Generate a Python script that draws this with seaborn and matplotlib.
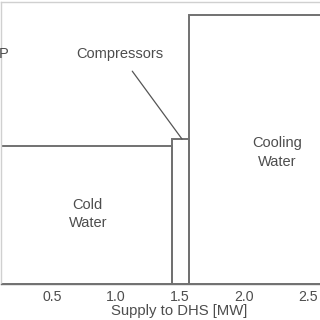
import matplotlib
matplotlib.use('Agg')
import matplotlib.pyplot as plt
import numpy as np
import seaborn as sns

# bin edges along the supply axis [MW] and level of each block
edges = [0.0, 1.44, 1.57, 3.0]
levels = [48.9, 51.4, 95.4]
blocks = ['Cold\nWater', 'Compressors', 'Cooling\nWater']
ticks = [0.5, 1.0, 1.5, 2.0, 2.5]

sns.set_style('white')
plt.rcParams['font.family'] = ['Liberation Sans', 'DejaVu Sans']

grey = '#717171'
txt = '#4d4d4d'

fig = plt.figure(figsize=(3.2, 3.2), dpi=100)
ax = fig.add_axes([0.004, 36 / 320, 1.0, 282 / 320])

sns.histplot(x=edges[:-1], weights=levels, bins=edges, fill=False,
             color=grey, linewidth=1.4, ax=ax)

ax.set_xlim(0.094 + 0.01, 2.594 + 0.01)
ax.set_ylim(0, 100)
ax.set_xticks(ticks)
ax.set_xticklabels(['%.1f' % t for t in ticks], fontsize=10.2, color=txt)
ax.set_yticks([])
ax.set_ylabel('')
ax.tick_params(axis='x', length=2, width=0.8, color=grey, pad=2)

ax.spines['bottom'].set_color(grey)
ax.spines['bottom'].set_linewidth(1.0)
for s in ['left', 'top']:
    ax.spines[s].set_color('#d0d0d0')
    ax.spines[s].set_linewidth(1.0)
ax.spines['right'].set_visible(False)

ax.set_xlabel('Supply to DHS [MW]', fontsize=10.7, color=txt)
ax.xaxis.set_label_coords(0.556, -0.07)

ax.text(0.78, 24.8, blocks[0], ha='center', va='center', fontsize=10.5,
        color=txt, linespacing=1.38)
ax.text(2.26, 46.6, blocks[2], ha='center', va='center', fontsize=10.5,
        color=txt, linespacing=1.38)
ax.annotate(blocks[1], xy=(1.516, levels[1]), xytext=(1.03, 81.5),
            ha='center', va='center', fontsize=10.5, color=txt,
            arrowprops=dict(arrowstyle='-', color='#555555', lw=0.9,
                            shrinkA=6, shrinkB=0))
ax.text(0.125, 81.5, 'P', ha='center', va='center', fontsize=10.5, color=txt)

fig.savefig('out.png', dpi=100)
